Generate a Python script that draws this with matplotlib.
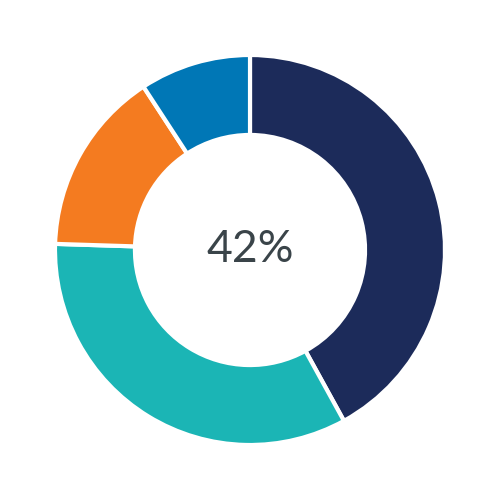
import matplotlib
matplotlib.use("Agg")
import matplotlib.pyplot as plt

labels = ["A", "B", "C", "D"]
values = [42.0, 33.5, 15.3, 9.2]
colors = ["#1c2b5a", "#1bb5b5", "#f47b20", "#0077b6"]
center_label = "42%"

fig = plt.figure(figsize=(5, 5), dpi=100)
ax = fig.add_axes([0, 0, 1, 1])
ax.pie(values, colors=colors, startangle=90, counterclock=False, radius=1.0,
       wedgeprops=dict(width=0.41, edgecolor="white", linewidth=3))
lim = 250 / 195
ax.set_xlim(-lim, lim)
ax.set_ylim(-lim, lim)
ax.set_aspect("equal")
ax.axis("off")
ax.text(0, 0.005, center_label, ha="center", va="center", fontsize=32,
        family=["Lato", "DejaVu Sans"], color="#3a4449")
fig.savefig("out.png", dpi=100, facecolor="white")
